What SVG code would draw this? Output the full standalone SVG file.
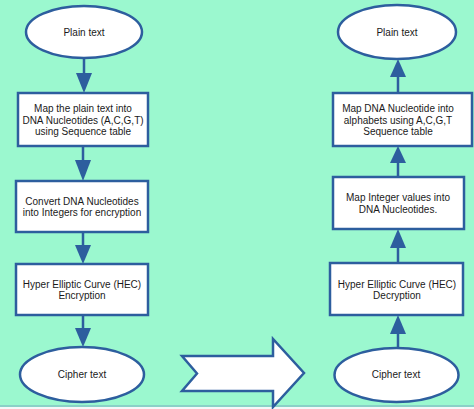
<svg xmlns="http://www.w3.org/2000/svg" width="474" height="409" viewBox="0 0 474 409">
<defs>
<style>
.shape{fill:#ffffff;stroke:#2d5e9e;stroke-width:2.5}
.line{stroke:#2d5e9e;stroke-width:2.5;fill:none}
.head{fill:#2d5e9e;stroke:none}
text{font-family:"Liberation Sans",Arial,sans-serif;font-size:10px;fill:#1a1a1a;text-anchor:middle}
</style>
</defs>
<rect x="0" y="0" width="474" height="409" fill="#9bf8cf"/>
<rect x="0" y="407" width="474" height="2" fill="#f4f8f8"/>
<line x1="0" y1="406" x2="474" y2="406" stroke="#7aa9c0" stroke-width="1"/>

<g id="connectors">
<line class="line" x1="84" y1="58" x2="84" y2="75"/>
<polygon class="head" points="76,73 92,73 84,93"/>
<line class="line" x1="83" y1="146" x2="83" y2="162"/>
<polygon class="head" points="75,160 91,160 83,181"/>
<line class="line" x1="83" y1="232" x2="83" y2="247"/>
<polygon class="head" points="75,245 91,245 83,264"/>
<line class="line" x1="83" y1="315" x2="83" y2="330"/>
<polygon class="head" points="75,328 91,328 83,347"/>

<line class="line" x1="398" y1="93" x2="398" y2="75"/>
<polygon class="head" points="390,77 406,77 398,59"/>
<line class="line" x1="398" y1="177" x2="398" y2="160"/>
<polygon class="head" points="390,163 406,163 398,146"/>
<line class="line" x1="398" y1="263" x2="398" y2="245"/>
<polygon class="head" points="390,248 406,248 398,229"/>
<line class="line" x1="398" y1="348" x2="398" y2="331"/>
<polygon class="head" points="390,334 406,334 398,315"/>
</g>

<g id="plain-left">
<ellipse class="shape" cx="84" cy="32" rx="58" ry="26"/>
<text x="84" y="36">Plain text</text>
</g>
<g id="map-plain">
<rect class="shape" x="18" y="93" width="130" height="53"/>
<text x="83" y="112">Map the plain text into</text>
<text x="83" y="123.5">DNA Nucleotides (A,C,G,T)</text>
<text x="83" y="135">using Sequence table</text>
</g>
<g id="convert">
<rect class="shape" x="16" y="181" width="132" height="51"/>
<text x="82" y="205">Convert DNA Nucleotides</text>
<text x="82" y="216">into Integers for encryption</text>
</g>
<g id="hec-enc">
<rect class="shape" x="16" y="264" width="132" height="51"/>
<text x="82" y="288">Hyper Elliptic Curve (HEC)</text>
<text x="82" y="299">Encryption</text>
</g>
<g id="cipher-left">
<ellipse class="shape" cx="82" cy="374.5" rx="62" ry="27.5"/>
<text x="82" y="378">Cipher text</text>
</g>

<g id="plain-right">
<ellipse class="shape" cx="397" cy="32" rx="59" ry="27"/>
<text x="397" y="36">Plain text</text>
</g>
<g id="map-alpha">
<rect class="shape" x="333" y="93" width="139" height="53"/>
<text x="398" y="112">Map DNA Nucleotide into</text>
<text x="398" y="123.5">alphabets using A,C,G,T</text>
<text x="398" y="135">Sequence table</text>
</g>
<g id="map-int">
<rect class="shape" x="333" y="177" width="131" height="52"/>
<text x="398" y="201">Map Integer values into</text>
<text x="398" y="213">DNA Nucleotides.</text>
</g>
<g id="hec-dec">
<rect class="shape" x="330" y="263" width="133" height="52"/>
<text x="397" y="288">Hyper Elliptic Curve (HEC)</text>
<text x="397" y="299">Decryption</text>
</g>
<g id="cipher-right">
<ellipse class="shape" cx="396.5" cy="375" rx="62" ry="27"/>
<text x="396" y="378">Cipher text</text>
</g>

<g id="big-arrow">
<polygon class="shape" points="182,356 273,356 273,339 304,373 273,407 273,391 182,391 197,373.5"/>
</g>
</svg>
